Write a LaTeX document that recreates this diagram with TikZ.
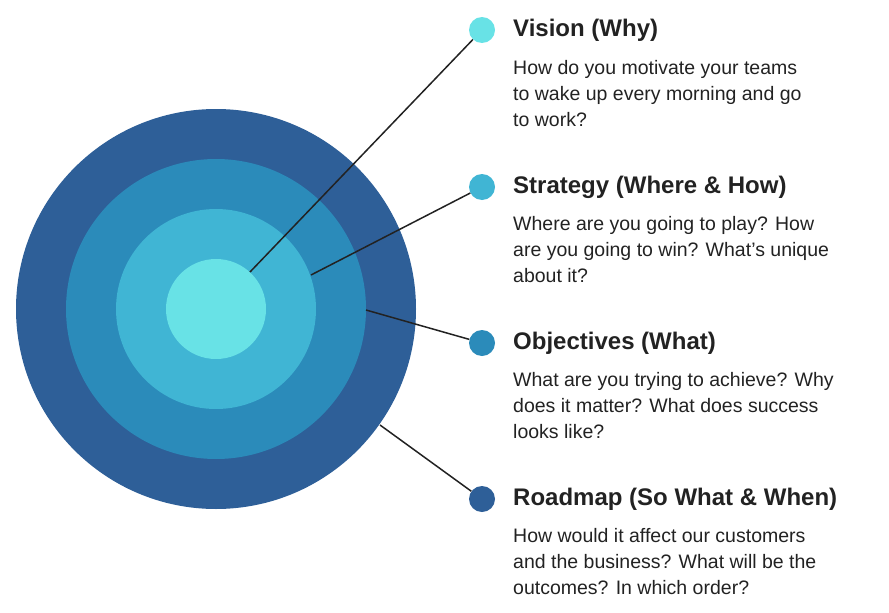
\documentclass[tikz,border=0pt]{standalone}
\usepackage{fontspec}
\setmainfont{Liberation Sans}
\definecolor{c1}{HTML}{2E5F98}
\definecolor{c2}{HTML}{2B8BBA}
\definecolor{c3}{HTML}{40B5D4}
\definecolor{c4}{HTML}{68E2E6}
\definecolor{tx}{HTML}{222222}
\tikzset{dot/.style={circle,minimum size=26pt,inner sep=0pt},
ttl/.style={anchor=west,font=\fontsize{24}{28}\selectfont\bfseries,text=tx,inner sep=0pt},
body/.style={anchor=north west,font=\fontsize{19.5}{26}\selectfont,text=tx,inner sep=0pt,align=left},
conn/.style={draw=tx,line width=1.5pt}}
\begin{document}
\begin{tikzpicture}[x=1pt,y=-1pt]
\useasboundingbox (0,0) rectangle (889,613);
\fill[c1] (216,309) circle (200);
\fill[c2] (216,309) circle (150);
\fill[c3] (216,309) circle (100);
\fill[c4] (216,309) circle (50);
\coordinate (a1) at (250,272);
\coordinate (a2) at (311,275);
\coordinate (a3) at (366,310);
\coordinate (a4) at (380,425);
\node[dot,fill=c4] (d1) at (482,30) {};
\node[dot,fill=c3] (d2) at (482,187) {};
\node[dot,fill=c2] (d3) at (482,343) {};
\node[dot,fill=c1] (d4) at (482,499) {};
\draw[conn] (a1) -- (d1);
\draw[conn] (a2) -- (d2);
\draw[conn] (a3) -- (d3);
\draw[conn] (a4) -- (d4);
\node[ttl] (t1) at (513,30) {Vision (Why)};
\node[ttl] (t2) at (513,187) {Strategy (Where \& How)};
\node[ttl] (t3) at (513,343) {Objectives (What)};
\node[ttl] (t4) at (513,499) {Roadmap (So What \& When)};
\node[body] (b1) at (513,60) {How do you motivate your teams\\to wake up every morning and go\\to work?};
\node[body] (b2) at (513,216) {Where are you going to play? How\\are you going to win? What’s unique\\about it?};
\node[body] (b3) at (513,372) {What are you trying to achieve? Why\\does it matter? What does success\\looks like?};
\node[body] (b4) at (513,528) {How would it affect our customers\\and the business? What will be the\\outcomes? In which order?};
\end{tikzpicture}
\end{document}
